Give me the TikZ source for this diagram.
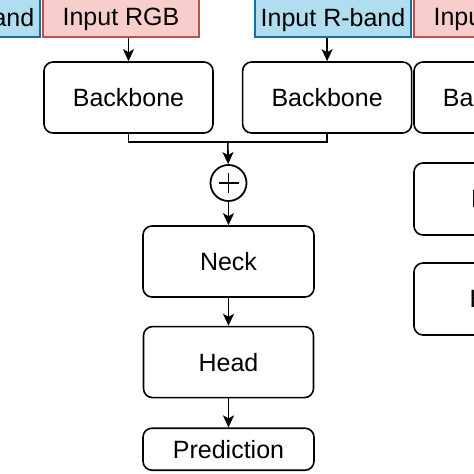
\documentclass[tikz,border=0pt]{standalone}
\usepackage{xcolor}
\usepackage{fontspec}
\setmainfont{Liberation Sans}
\usepackage{tikz}
\usetikzlibrary{arrows.meta, positioning, calc}
\definecolor{rgbfill}{HTML}{F8CECC}
\definecolor{rgbline}{HTML}{B85450}
\definecolor{bandfill}{HTML}{B1DDF0}
\definecolor{bandline}{HTML}{10739E}

\begin{document}
\begin{tikzpicture}[x=1pt, y=-1pt, >={Stealth[length=12pt, width=11pt, inset=3pt]},
    block/.style={rectangle, draw, rounded corners=9pt, line width=1.6pt, minimum width=169pt, minimum height=71pt, font=\fontsize{25}{30}\selectfont},
    inbox/.style={rectangle, draw, line width=1.2pt, minimum width=156pt, minimum height=40pt, text depth=0pt, font=\fontsize{25}{30}\selectfont},
    rgbin/.style={inbox, fill=rgbfill, draw=rgbline},
    bandin/.style={inbox, fill=bandfill, draw=bandline},
    flow/.style={->, line width=1.6pt}]
        \useasboundingbox (0,0) rectangle (474,474);
        \clip (0,0) rectangle (474,474);

        % Inputs (top row, cut by the frame)
        \node (InLeft) [bandin] at (-38,17) {Input R-band};
        \node (InRGB) [rgbin] at (121,17) {Input RGB};
        \node (InBand) [bandin] at (333,17) {Input R-band};
        \node (InRight) [rgbin] at (492,17) {Input RGB};

        % Backbones
        \node (BB1) [block] at (128.5,97.5) {Backbone};
        \node (BB2) [block, right=28pt of BB1] {Backbone};
        \node (BB3) [block] at (498.5,97.5) {Backbone};

        % Fusion
        \node (Sum) [circle, draw, line width=1.8pt, minimum size=36pt] at (228.5,183) {};
        \draw[line width=1.8pt] ($(Sum)+(-10,0)$) -- ($(Sum)+(10,0)$);
        \draw[line width=1.8pt] ($(Sum)+(0,-10)$) -- ($(Sum)+(0,10)$);
        \coordinate (Merge) at ($(BB1.south)!0.5!(BB2.south)+(0,8)$);

        % Neck, head and output
        \node (Neck) [block, minimum width=171pt] at (228.5,261.5) {Neck};
        \node (Head) [block, minimum width=170pt, below=28pt of Neck] {Head};
        \node (Pred) [block, minimum width=171pt, minimum height=42pt, below=29pt of Head] {Prediction};

        % Right column (cut by the frame)
        \node (Neck3) [block, minimum width=171pt, minimum height=72pt] at (499.5,199) {Neck};
        \node (Head3) [block, minimum width=171pt, minimum height=72pt] at (499.5,299) {Head};

        % Connections
        \draw[flow] (InRGB.south -| BB1.north) -- (BB1.north);
        \draw[flow] (InBand.south -| BB2.north) -- (BB2.north);
        \draw[line width=1.6pt] (BB1.south) |- (Merge) -| (BB2.south);
        \draw[flow] (Merge) -- (Sum);
        \draw[flow] (Sum) -- (Neck);
        \draw[flow] (Neck) -- (Head);
        \draw[flow] (Head) -- (Pred);
    \end{tikzpicture}
\end{document}
